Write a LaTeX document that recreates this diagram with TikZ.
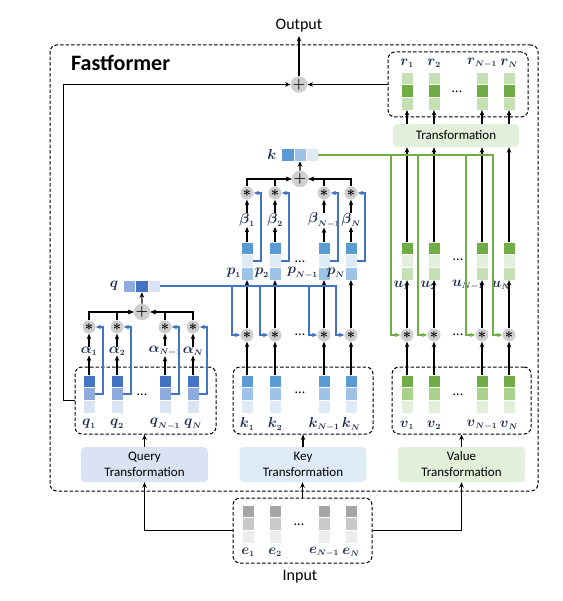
\documentclass[tikz,border=0pt]{standalone}
\usepackage{amsmath}
\usepackage{fontspec}
\setmainfont{Carlito}
\usetikzlibrary{positioning,arrows.meta}
\DeclareMathSizes{14}{14}{8.5}{6}

\definecolor{qdark}{HTML}{4472C4}
\definecolor{qmid}{HTML}{8FAADC}
\definecolor{qlight}{HTML}{DAE3F3}
\definecolor{kdark}{HTML}{5B9BD5}
\definecolor{kmid}{HTML}{9DC3E6}
\definecolor{klight}{HTML}{DEEBF7}
\definecolor{gdark}{HTML}{70AD47}
\definecolor{gmid}{HTML}{A9D18E}
\definecolor{glight}{HTML}{C5E0B4}
\definecolor{gpale}{HTML}{E2EFDA}
\definecolor{edark}{HTML}{A6A6A6}
\definecolor{emid}{HTML}{C9C9C9}
\definecolor{elight}{HTML}{EDEDED}
\definecolor{opgray}{HTML}{CFCFCF}
\definecolor{lineblue}{HTML}{4472C4}
\definecolor{linegreen}{HTML}{70AD47}
\definecolor{labcol}{HTML}{1F2D50}

\newcommand{\vlab}[2]{$\boldsymbol{#1}_{\boldsymbol{#2}}$}
% vertical vector: name, x, y of top cell, three fills
\newcommand{\vvec}[6]{%
  \node[cell,fill=#4] (#1-a) at (#2,#3) {};
  \node[cell,fill=#5,below=0pt of #1-a] (#1-b) {};
  \node[cell,fill=#6,below=0pt of #1-b] (#1-c) {};}
% horizontal vector: name, x of left cell, y, three fills
\newcommand{\hvec}[6]{%
  \node[hcell,fill=#4] (#1-a) at (#2,#3) {};
  \node[hcell,fill=#5,right=0pt of #1-a] (#1-b) {};
  \node[hcell,fill=#6,right=0pt of #1-b] (#1-c) {};}

\tikzset{
  cell/.style={draw=white, line width=0.5pt, minimum width=12pt, minimum height=12.7pt, inner sep=0pt, outer sep=0pt},
  hcell/.style={cell, minimum width=12.3pt, minimum height=12.5pt},
  opnode/.style={circle, fill=opgray, inner sep=0pt, minimum size=13pt, font=\fontsize{14}{14}\selectfont},
  arr/.style={-{Stealth[length=5.5pt,width=4.5pt]}, line width=1.2pt},
  barr/.style={arr, draw=lineblue, line width=1.3pt},
  garr/.style={arr, draw=linegreen, line width=1.3pt},
  dbox/.style={draw, dash pattern=on 3.5pt off 2pt, rounded corners=7pt, line width=1pt, inner sep=0pt},
  tbox/.style={rounded corners=4pt, align=center, font=\fontsize{13}{16}\selectfont, minimum width=127pt, minimum height=35pt},
  lab/.style={text=labcol, font=\fontsize{14}{14}\selectfont, inner sep=0pt},
  dotsnode/.style={font=\fontsize{14}{14}\selectfont, inner sep=0pt},
}

\begin{document}
\begin{tikzpicture}[x=1pt,y=-1pt]
  \useasboundingbox (0,0) rectangle (562,601);

  % frame
  \node[dbox, minimum width=488pt, minimum height=446pt] (ff) at (294,268) {};
  \node[font=\bfseries\fontsize{22}{26}\selectfont, anchor=west, inner sep=0pt] (fftitle) at (71,63) {Fastformer};
  \node[font=\fontsize{16}{19}\selectfont] (outp) at (299,26) {Output};
  \node[font=\fontsize{16}{19}\selectfont] (inp) at (300,577) {Input};
  \node[opnode] (op) at (299,84.5) {$\boldsymbol{+}$};
  \draw[arr] (op) -- (outp);

  % query side
  \node[dbox, minimum width=141pt, minimum height=67pt] (qbox) at (145.5,400.5) {};
  \foreach \i/\x/\s in {1/89/1,2/117/2,3/165/{N-1},4/193/N}{
    \vvec{q\i}{\x}{381.3}{qdark}{qmid}{qlight}
    \node[lab] (ql\i) at (\x,424) {\vlab{q}{\s}};
    \node[lab] (al\i) at (\x,351) {\vlab{\alpha}{\s}};
    \node[opnode] (qm\i) at (\x,327) {$\boldsymbol{\ast}$};
    \draw[arr] (q\i-a) -- (al\i);
    \draw[arr] (al\i) -- (qm\i);
    \draw[barr] (q\i-b.east) -- ++(8,0) |- (qm\i);
  }
  \node[dotsnode] (qdots) at (142,395) {...};
  \node[opnode] (qp) at (142,312) {$\boldsymbol{+}$};
  \foreach \i in {1,...,4} \draw[arr] (qm\i) |- (qp);
  \hvec{qv}{129.5}{286}{qmid}{qdark}{qlight}
  \node[lab, left=5pt of qv-a] (qlab) {$\boldsymbol{q}$};
  \draw[arr] (qp) -- (qv-b);
  \draw[arr] (qbox.west) -- ++(-11,0) |- (op);

  % key side
  \node[dbox, minimum width=140pt, minimum height=67pt] (kbox) at (303,400.5) {};
  \hvec{kv}{287.7}{155}{kdark}{kmid}{klight}
  \node[lab, left=5pt of kv-a] (klab) {$\boldsymbol{k}$};
  \foreach \i/\x/\s in {1/247/1,2/275/2,3/324/{N-1},4/351/N}{
    \vvec{k\i}{\x}{381.3}{kdark}{kmid}{klight}
    \node[lab] (kl\i) at (\x,424) {\vlab{k}{\s}};
    \node[opnode] (km\i) at (\x,335) {$\boldsymbol{\ast}$};
    \vvec{p\i}{\x}{248.3}{kdark}{klight}{kmid}
    \node[lab, anchor=east] (pl\i) at (\x-6,273) {\vlab{p}{\s}};
    \node[lab] (bl\i) at (\x,220) {\vlab{\beta}{\s}};
    \node[opnode] (pm\i) at (\x,193) {$\boldsymbol{\ast}$};
    \draw[arr] (k\i-a) -- (km\i);
    \draw[arr] (km\i) -- (p\i-c);
    \draw[arr] (p\i-a) -- (bl\i);
    \draw[arr] (bl\i) -- (pm\i);
    \draw[barr] (p\i-b.east) -- ++(8,0) |- (pm\i);
    \draw[barr] (qv-c.east) -| ([xshift=-15pt]km\i.center) -- (km\i);
  }
  \node[dotsnode] (kdots) at (300,393) {...};
  \node[dotsnode] (kmdots) at (300,335) {...};
  \node[dotsnode] (pdots) at (300,262) {...};
  \node[opnode] (kp) at (300,179) {$\boldsymbol{+}$};
  \foreach \i in {1,...,4} \draw[arr] (pm\i) |- (kp);
  \draw[arr] (kp) -- (kv-b);

  % value side
  \node[dbox, minimum width=139pt, minimum height=67pt] (vbox) at (461.5,400.5) {};
  \node[dbox, minimum width=140pt, minimum height=65pt] (rbox) at (458,84.5) {};
  \node[tbox, fill=gpale, minimum width=126pt, minimum height=23pt] (tr) at (456,135.5) {Transformation};
  \foreach \i/\x/\s in {1/407/1,2/434/2,3/482/{N-1},4/509/N}{
    \vvec{v\i}{\x}{381.3}{gdark}{gmid}{gpale}
    \node[lab] (vl\i) at (\x,425) {\vlab{v}{\s}};
    \node[opnode] (vm\i) at (\x,335) {$\boldsymbol{\ast}$};
    \vvec{u\i}{\x}{248.3}{gdark}{gpale}{glight}
    \node[lab, anchor=east] (ul\i) at (\x+2,285) {\vlab{u}{\s}};
    \vvec{r\i}{\x}{78.3}{glight}{gdark}{glight}
    \node[lab] (rl\i) at (\x,63) {\vlab{r}{\s}};
    \draw[arr] (v\i-a) -- (vm\i);
    \draw[arr] (vm\i) -- (u\i-c);
    \draw[arr] (u\i-a) -- (u\i-a |- tr.south);
    \draw[arr] (r\i-c |- tr.north) -- (r\i-c);
    \draw[garr] (kv-c.east) -| ([xshift=-16pt]vm\i.center) -- (vm\i);
  }
  \node[dotsnode] (vdots) at (458,395) {...};
  \node[dotsnode] (vmdots) at (458,335) {...};
  \node[dotsnode] (udots) at (458,260) {...};
  \node[dotsnode] (rdots) at (457,92) {...};
  \draw[arr] (rbox.west) -- (op);

  % transformations and input
  \node[tbox, fill=qlight] (qt) at (144.5,464.5) {Query\\Transformation};
  \node[tbox, fill=klight] (kt) at (303,464.5) {Key\\Transformation};
  \node[tbox, fill=gpale] (vt) at (461.5,464.5) {Value\\Transformation};
  \draw[arr] (qt) -- (qt |- qbox.south);
  \draw[arr] (kt) -- (kt |- kbox.south);
  \draw[arr] (vt) -- (vt |- vbox.south);

  \node[dbox, minimum width=139pt, minimum height=65pt] (ebox) at (302.5,530.5) {};
  \foreach \i/\x/\s in {1/248/1,2/275/2,3/324/{N-1},4/351/N}{
    \vvec{e\i}{\x}{511.3}{edark}{emid}{elight}
    \node[lab] (el\i) at (\x,552) {\vlab{e}{\s}};
  }
  \node[dotsnode] (edots) at (299,525) {...};
  \draw[arr] (ebox) -- (ebox |- kt.south);
  \draw[arr] (ebox.west) -| (qt);
  \draw[arr] (ebox.east) -| (vt);
\end{tikzpicture}
\end{document}
